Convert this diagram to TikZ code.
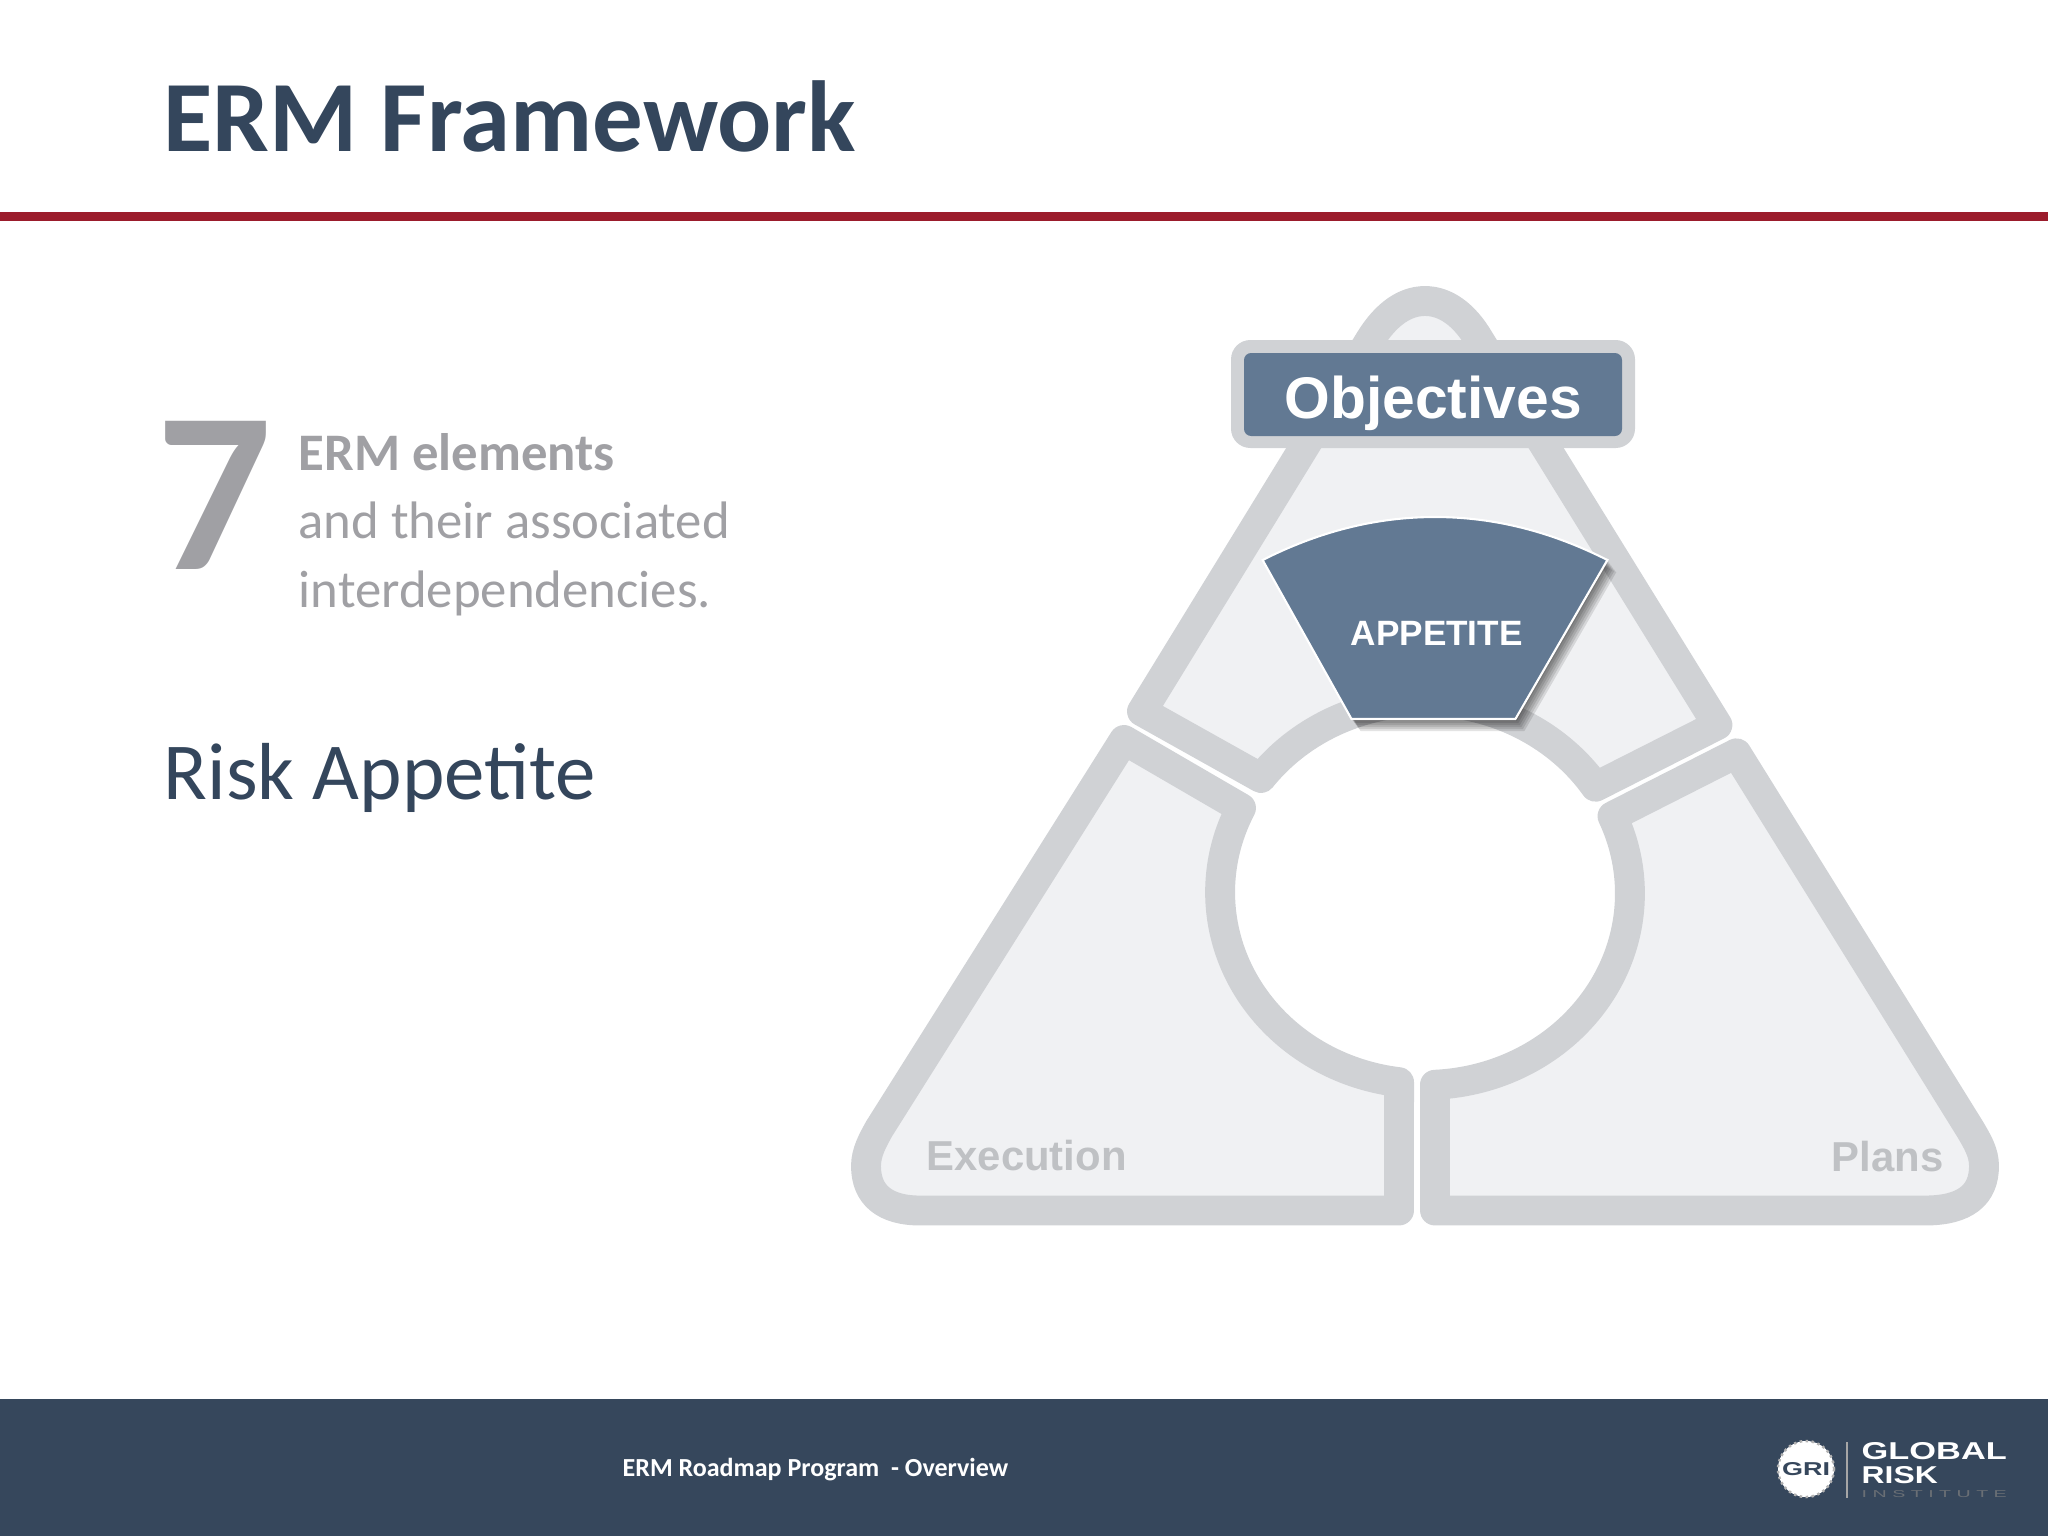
\documentclass[tikz,border=0pt]{standalone}
\usepackage{fontspec}
\setmainfont{Carlito}
\newfontfamily\arialfont{Liberation Sans}
\usetikzlibrary{calc}

\definecolor{slatedark}{HTML}{34465C}
\definecolor{footerblue}{HTML}{36475C}
\definecolor{rulered}{HTML}{9B1C2C}
\definecolor{segline}{HTML}{D0D2D5}
\definecolor{segfill}{HTML}{F0F1F3}
\definecolor{boxblue}{HTML}{627993}
\definecolor{seglabel}{HTML}{BFC1C4}
\definecolor{softgray}{HTML}{A0A0A4}

\tikzset{
    segment/.style={draw=segline,fill=segfill,line width=8.5pt,line join=round},
    plaintext/.style={inner sep=0pt,anchor=base west},
    seglabeltext/.style={plaintext,text=seglabel,font=\arialfont\bfseries\fontsize{11.9}{14}\selectfont},
    leadtext/.style={plaintext,text=softgray,font=\fontsize{15}{18}\selectfont}
}
\newcommand{\appetitepath}{(1262.6,560) .. controls (1318,532) and (1375,517) .. (1435,517) .. controls (1495,517) and (1552,532) .. (1607.4,560) -- (1515.4,719) -- (1351.5,719) -- cycle}

\begin{document}
\begin{tikzpicture}[x=0.01cm,y=-0.01cm]
    \useasboundingbox (0,0) rectangle (2048,1536);

    % header and footer
    \fill[rulered] (0,212) rectangle (2048,221);
    \fill[footerblue] (0,1399) rectangle (2048,1536);
    \node[plaintext,text=slatedark,font=\bfseries\fontsize{28.7}{34}\selectfont] (title) at (163,151) {ERM Framework};
    \node[plaintext,text=white,font=\bfseries\fontsize{7.4}{9}\selectfont] (footer) at (622,1476) {ERM Roadmap Program\ \ - Overview};

    % left column
    \node[plaintext,text=softgray,font=\bfseries\fontsize{65}{70}\selectfont] (seven) at (156,569) {7};
    \node[leadtext,font=\bfseries\fontsize{15}{18}\selectfont] (elements) at (298,470) {ERM elements};
    \node[leadtext] (assoc) at (298,538) {and their associated};
    \node[leadtext] (interdep) at (298,607) {interdependencies.};
    \node[plaintext,text=slatedark,font=\fontsize{23}{28}\selectfont] (risk) at (163,799) {Risk Appetite};

    % the three segments
    \draw[segment] (1261,778) arc[x radius=205,y radius=191.5,start angle=216.9,end angle=326.3]
        -- (1717.4,725) -- (1479.3,340) .. controls (1464,314) and (1445,301) .. (1425,301)
        .. controls (1405,301) and (1386,314) .. (1370,340) -- (1142,711.4) -- cycle;
    \draw[segment] (1241,808) arc[x radius=205,y radius=191.5,start angle=206.1,end angle=97.3]
        -- (1399,1210.5) -- (920,1210.5) .. controls (885,1210.5) and (866,1195) .. (866,1166)
        .. controls (866,1152) and (873,1140) .. (879,1129) -- (1124,740) -- cycle;
    \draw[segment] (1612.5,816.2) arc[x radius=205,y radius=191.5,start angle=-23.8,end angle=87.2]
        -- (1435,1210.5) -- (1925,1210.5) .. controls (1965,1210.5) and (1984,1195) .. (1984,1166)
        .. controls (1984,1152) and (1977,1141) .. (1970,1129) -- (1736.5,753.3) -- cycle;
    \node[seglabeltext] (execution) at (926,1170) {Execution};
    \node[seglabeltext] (plans) at (1831,1171.5) {Plans};

    % objectives box
    \fill[segline,rounded corners=5.5pt] (1231,340) rectangle (1635,448);
    \fill[boxblue,rounded corners=2pt] (1244,353) rectangle (1622,436);
    \node[plaintext,text=white,font=\arialfont\bfseries\fontsize{16.7}{20}\selectfont] (objectives) at (1284,418) {Objectives};

    % appetite, with its shadow
    \foreach \i in {1,...,6}
      \fill[black,opacity=0.11,shift={(1.5*\i,2*\i)}] \appetitepath;
    \draw[fill=boxblue,draw=white,line width=0.6pt] \appetitepath;
    \node[plaintext,text=white,font=\arialfont\bfseries\fontsize{10}{12}\selectfont] (appetite) at (1350,645) {APPETITE};

    % logo
    \node[circle,fill=white,draw=gray!60,densely dotted,line width=0.7pt,minimum size=0.56cm,inner sep=0pt] (logodisc) at (1806,1469) {};
    \node[inner sep=0pt,text=footerblue,font=\arialfont\bfseries] (logogri) at (logodisc.center) {\resizebox{0.48cm}{0.13cm}{GRI}};
    \coordinate (logotop) at (1847,1442);
    \coordinate (logobottom) at (1847,1498);
    \draw[gray!70,line width=0.4pt] (logotop) -- (logobottom);
    \node[plaintext,text=white,font=\arialfont\bfseries] (logoglobal) at (1861,1459) {\resizebox{1.45cm}{0.17cm}{GLOBAL}};
    \node[plaintext,text=white,font=\arialfont\bfseries] (logorisk) at (1861,1483) {\resizebox{0.76cm}{0.17cm}{RISK}};
    \node[plaintext,text=gray!70!footerblue,font=\arialfont] (logoinst) at (1861,1497) {\resizebox{1.45cm}{0.07cm}{I N S T I T U T E}};
\end{tikzpicture}
\end{document}
